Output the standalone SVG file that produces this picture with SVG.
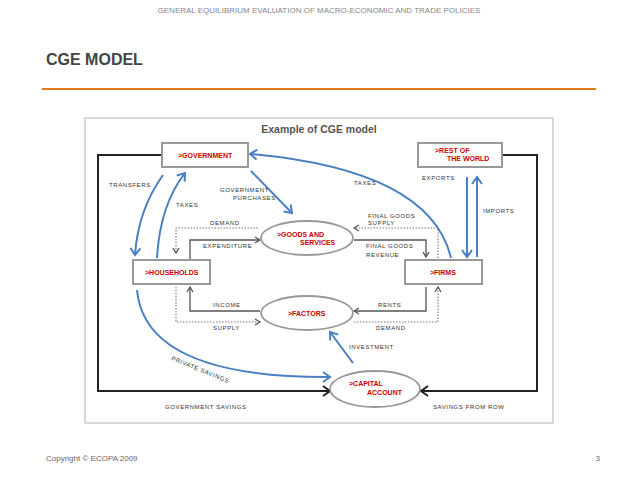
<svg xmlns="http://www.w3.org/2000/svg" width="638" height="478" viewBox="0 0 638 478">
<style>
text{font-family:"Liberation Sans",Arial,sans-serif}
.l{font-size:6px;fill:#333;letter-spacing:0.6px}
.n{font-size:7px;fill:#c00;font-weight:bold}
.box{fill:#fff;stroke:#999;stroke-width:2}
.ell{fill:#fff;stroke:#999;stroke-width:1.8}
.k{fill:none;stroke:#222;stroke-width:2}
.b{fill:none;stroke:#4a7fc1;stroke-width:2}
.g{fill:none;stroke:#555;stroke-width:1.3}
.d{fill:none;stroke:#777;stroke-width:1.1;stroke-dasharray:1.5 1.5}
</style>
<defs>
<marker id="bk" markerWidth="10" markerHeight="12" refX="8" refY="6" orient="auto" markerUnits="userSpaceOnUse"><path d="M1,1 L8,6 L1,11" fill="none" stroke="#222" stroke-width="2"/></marker>
<marker id="bl" markerWidth="10" markerHeight="12" refX="8" refY="6" orient="auto" markerUnits="userSpaceOnUse"><path d="M1,1 L8,6 L1,11" fill="none" stroke="#4a7fc1" stroke-width="2"/></marker>
<marker id="gr" markerWidth="8" markerHeight="8" refX="6" refY="4" orient="auto" markerUnits="userSpaceOnUse"><path d="M1,1 L6,4 L1,7" fill="none" stroke="#555" stroke-width="1.3"/></marker>
</defs>
<rect width="638" height="478" fill="#fff"/>
<text x="319" y="13" text-anchor="middle" style="font-size:8px;fill:#888">GENERAL EQUILIBRIUM EVALUATION OF MACRO-ECONOMIC AND TRADE POLICIES</text>
<text x="46" y="65" style="font-size:16px;font-weight:bold;fill:#444">CGE MODEL</text>
<line x1="42" y1="89" x2="596" y2="89" stroke="#e07b1a" stroke-width="2"/>
<text x="46" y="461" style="font-size:8px;fill:#666">Copyright © ECOPA 2009</text>
<text x="600" y="461" text-anchor="end" style="font-size:8px;fill:#666">3</text>
<rect x="85" y="118" width="468" height="305" fill="#fff" stroke="#ccc" stroke-width="1.5"/>
<text x="319" y="133" text-anchor="middle" style="font-size:10.5px;font-weight:bold;fill:#555">Example of CGE model</text>
<g id="connectors">
<path class="k" d="M162,155 H98 V391 H330" marker-end="url(#bk)"/>
<path class="k" d="M502,155 H537 V391 H421" marker-end="url(#bk)"/>
<path class="b" d="M163,175 Q138,210 135,255" marker-end="url(#bl)"/>
<path class="b" d="M157,258 Q160,205 185,173" marker-end="url(#bl)"/>
<path class="b" d="M251,171 L292,213" marker-end="url(#bl)"/>
<path class="b" d="M451,258 Q430,170 250,154" marker-end="url(#bl)"/>
<path class="b" d="M467,177 V257" marker-end="url(#bl)"/>
<path class="b" d="M477,257 V177" marker-end="url(#bl)"/>
<path class="b" d="M137,290 Q145,378 330,377" marker-end="url(#bl)"/>
<path class="b" d="M353,363 L330,332" marker-end="url(#bl)"/>
<path class="d" d="M258,228 H176 V253" marker-end="url(#gr)"/>
<path class="g" d="M190,260 V240 H260" marker-end="url(#gr)"/>
<path class="d" d="M438,258 V228 H354" marker-end="url(#gr)"/>
<path class="g" d="M354,240 H426 V257" marker-end="url(#gr)"/>
<path class="g" d="M260,311 H190 V287" marker-end="url(#gr)"/>
<path class="d" d="M176,287 V322 H260" marker-end="url(#gr)"/>
<path class="g" d="M426,287 V311 H354" marker-end="url(#gr)"/>
<path class="d" d="M354,322 H438 V287" marker-end="url(#gr)"/>
</g>
<g id="labels">
<text class="l" x="109" y="187">TRANSFERS</text>
<text class="l" x="176" y="207">TAXES</text>
<text class="l" x="220" y="192">GOVERNMENT</text>
<text class="l" x="233" y="200">PURCHASES</text>
<text class="l" x="354" y="185">TAXES</text>
<text class="l" x="422" y="180">EXPORTS</text>
<text class="l" x="483" y="213">IMPORTS</text>
<text class="l" x="210" y="225">DEMAND</text>
<text class="l" x="203" y="248">EXPENDITURE</text>
<text class="l" x="368" y="218">FINAL GOODS</text>
<text class="l" x="368" y="225">SUPPLY</text>
<text class="l" x="366" y="248">FINAL GOODS</text>
<text class="l" x="366" y="257">REVENUE</text>
<text class="l" x="213" y="307">INCOME</text>
<text class="l" x="213" y="330">SUPPLY</text>
<text class="l" x="378" y="307">RENTS</text>
<text class="l" x="376" y="330">DEMAND</text>
<text class="l" x="349" y="349">INVESTMENT</text>
<text class="l" x="171" y="360" transform="rotate(22 171 360)">PRIVATE SAVINGS</text>
<text class="l" x="165" y="409">GOVERNMENT SAVINGS</text>
<text class="l" x="433" y="409">SAVINGS FROM ROW</text>
</g>
<g id="government"><rect class="box" x="162" y="143" width="86" height="24"/><text class="n" x="178" y="158">&gt;GOVERNMENT</text></g>
<g id="rest-of-world"><rect class="box" x="418" y="143" width="84" height="24"/><text class="n" x="435" y="153">&gt;REST OF</text><text class="n" x="447" y="161">THE WORLD</text></g>
<g id="households"><rect class="box" x="133" y="260" width="77" height="24"/><text class="n" x="145" y="275">&gt;HOUSEHOLDS</text></g>
<g id="firms"><rect class="box" x="405" y="260" width="77" height="24"/><text class="n" x="430" y="275">&gt;FIRMS</text></g>
<g id="goods"><ellipse class="ell" cx="307" cy="238" rx="46" ry="17"/><text class="n" x="277" y="237">&gt;GOODS AND</text><text class="n" x="300" y="245">SERVICES</text></g>
<g id="factors"><ellipse class="ell" cx="307" cy="313" rx="46" ry="17"/><text class="n" x="288" y="316">&gt;FACTORS</text></g>
<g id="capital"><ellipse class="ell" cx="375" cy="389" rx="45" ry="18"/><text class="n" x="349" y="386">&gt;CAPITAL</text><text class="n" x="367" y="395">ACCOUNT</text></g>
</svg>
